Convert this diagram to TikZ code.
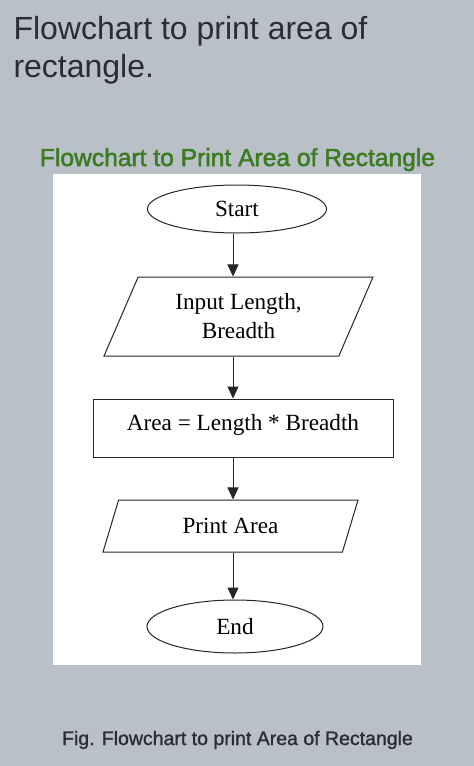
\documentclass[tikz,border=0pt]{standalone}
\usepackage{fontspec}
\setmainfont{Liberation Serif}
\newfontfamily\pagefont{Liberation Sans}
\newfontfamily\headfont{Liberation Sans}[FakeBold=2]
\newfontfamily\capfont{Liberation Sans}[FakeBold=1.2]
\usetikzlibrary{shapes,shapes.geometric,arrows.meta}
\definecolor{pagebg}{HTML}{B9C0C8}
\definecolor{pagetext}{HTML}{2A2E33}
\definecolor{headgreen}{HTML}{3C7B22}
\definecolor{flowline}{HTML}{262626}

\begin{document}
\begin{tikzpicture}[x=1pt, y=-1pt, line width=1pt,
        every node/.append style={inner sep=0pt},
        >={Triangle[length=12pt,width=11pt]}]
      \tikzstyle{term} = [ellipse, draw=flowline, fill=white, font=\fontsize{23.2}{29}\selectfont]
      \tikzstyle{io} = [trapezium, trapezium stretches body, draw=flowline, fill=white,
        align=center, font=\fontsize{23.2}{29}\selectfont]
      \tikzstyle{process} = [rectangle, draw=flowline, fill=white, font=\fontsize{23.2}{29}\selectfont]
      % page and panel
      \fill[pagebg] (0,0) rectangle (474,766);
      \useasboundingbox (0,0) rectangle (474,766);
      \fill[white] (53,174) rectangle (421,665);
      \node (title1) [anchor=base west, color=pagetext, font=\pagefont\fontsize{32}{38}\selectfont]
        at (13,39.5) {Flowchart to print area of};
      \node (title2) [anchor=base west, color=pagetext, font=\pagefont\fontsize{32}{38}\selectfont]
        at (13,77.5) {rectangle.};
      \node (heading) [anchor=base, color=headgreen, font=\headfont\fontsize{24.6}{30}\selectfont]
        at (237.5,166) {Flowchart to Print Area of Rectangle};
      \node (caption) [anchor=base, color=pagetext, font=\capfont\fontsize{19.5}{24}\selectfont]
        at (237.5,745) {Fig. Flowchart to print Area of Rectangle};
      % flowchart
      \coordinate (axis) at (233,0);
      \node (start) [term, minimum width=179pt, minimum height=48pt] at (237,209) {Start};
      \node (input) [io, trapezium left angle=53, trapezium right angle=127,
        minimum width=269pt, minimum height=79pt] at (238.5,316.5) {Input Length,\\Breadth};
      \node (area) [process, minimum width=300pt, minimum height=58pt,
        text height=16pt, text depth=11pt] at (243,428) {Area = Length * Breadth};
      \node (print) [io, trapezium left angle=45, trapezium right angle=135,
        minimum width=255pt, minimum height=52pt] at (230.5,526) {Print Area};
      \node (end) [term, minimum width=176pt, minimum height=53pt] at (235,626.5) {End};
      \draw[->, flowline] (start.south -| axis) -- (input.north -| axis);
      \draw[->, flowline] (input.south -| axis) -- (area.north -| axis);
      \draw[->, flowline] (area.south -| axis) -- (print.north -| axis);
      \draw[->, flowline] (print.south -| axis) -- (end.north -| axis);
    \end{tikzpicture}
\end{document}
